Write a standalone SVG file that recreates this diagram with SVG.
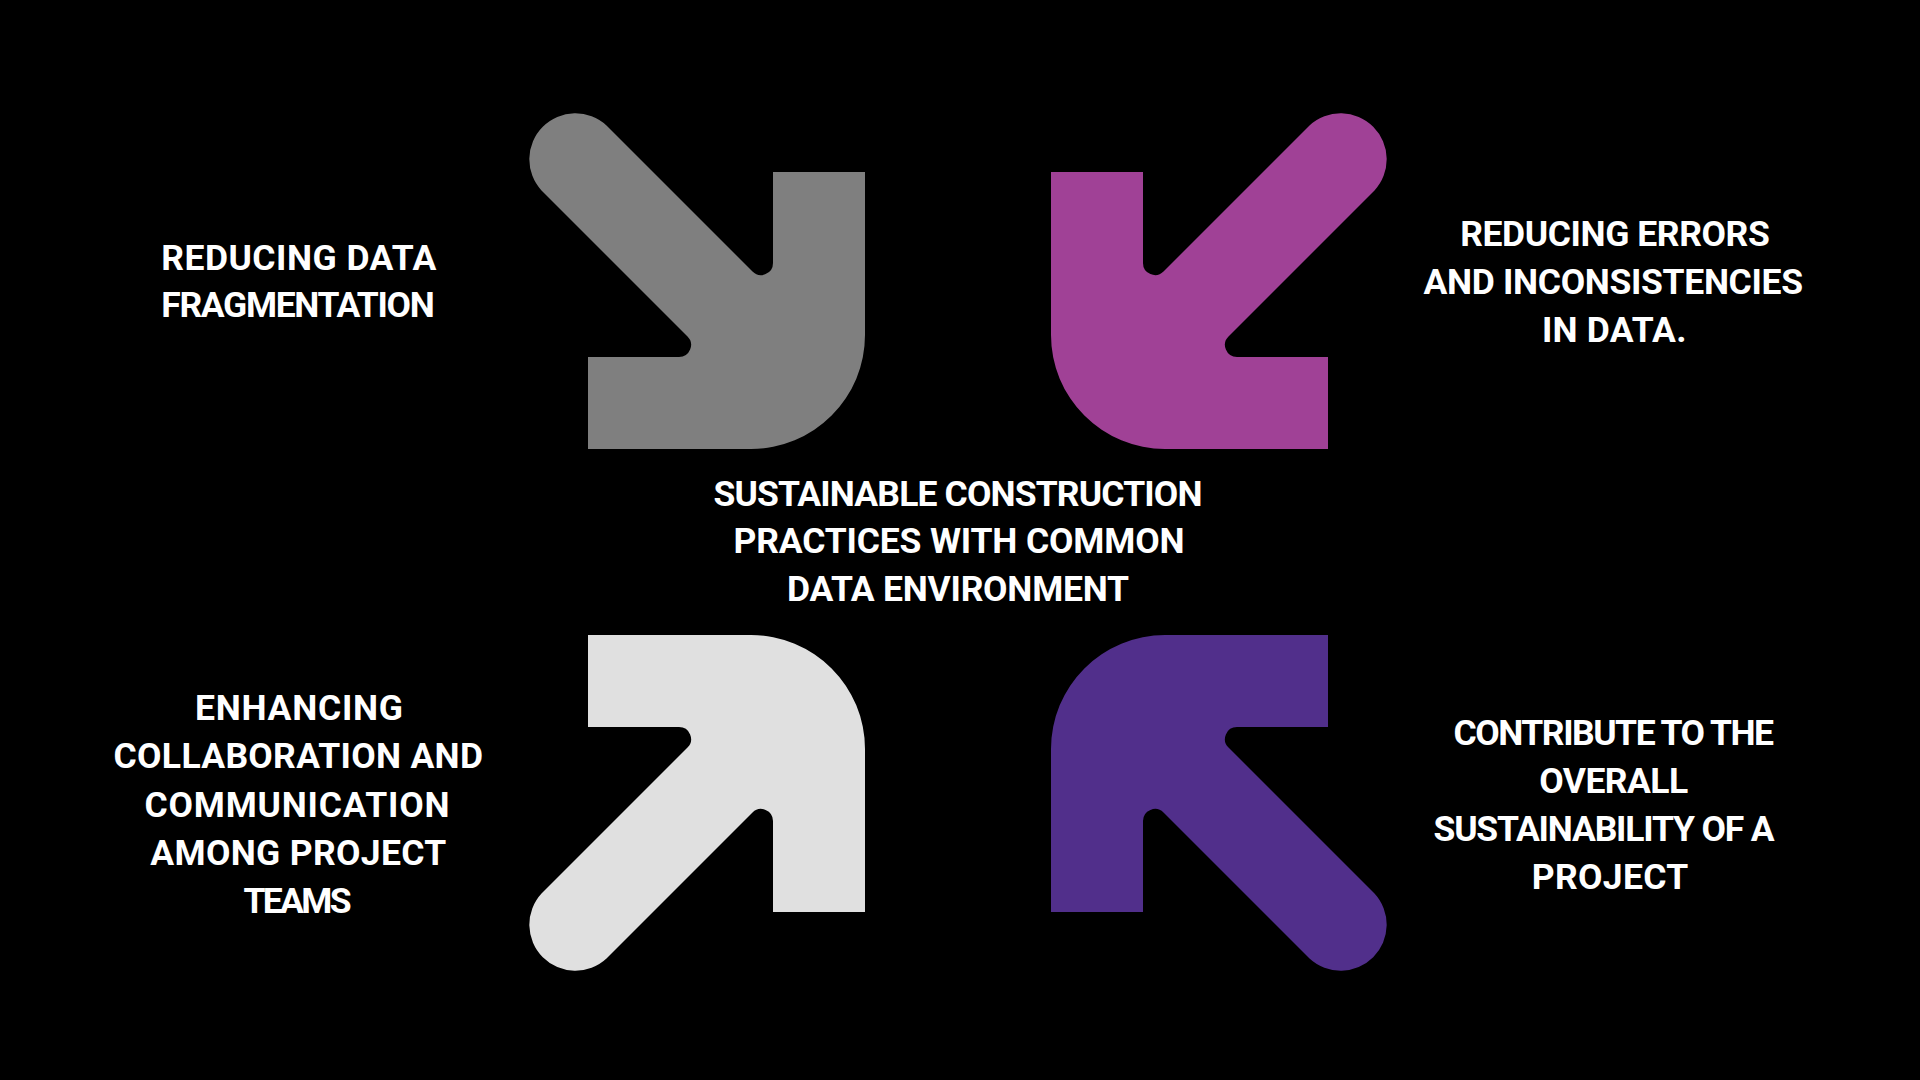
<svg xmlns="http://www.w3.org/2000/svg" xmlns:xlink="http://www.w3.org/1999/xlink" width="1920" height="1080" viewBox="0 0 1920 1080">
  <style>
    .lbl { font-family: Roboto, "Liberation Sans", sans-serif; font-weight: 700; font-size: 35.5px; fill: #FFFFFF; text-anchor: middle; }
  </style>
  <defs>
    <path id="arrow" d="M -185 -370 H -93 V -207 A 114 114 0 0 1 -207 -93 H -370 V -185 H -279 A 12 12 0 0 0 -270.5 -205.5 L -416.5 -351.5 A 46 46 0 0 1 -351.5 -416.5 L -205.5 -270.5 A 12 12 0 0 0 -185 -279 Z"/>
  </defs>
  <rect x="0" y="0" width="1920" height="1080" fill="#000000"/>
  <g id="connectors"/>
  <g id="arrows" transform="translate(958,542)">
    <g id="arrow-top-left"><use xlink:href="#arrow" href="#arrow" fill="#7F7F7F"/></g>
    <g id="arrow-top-right"><use xlink:href="#arrow" href="#arrow" fill="#A04196" transform="scale(-1,1)"/></g>
    <g id="arrow-bottom-left"><use xlink:href="#arrow" href="#arrow" fill="#E0E0E0" transform="scale(1,-1)"/></g>
    <g id="arrow-bottom-right"><use xlink:href="#arrow" href="#arrow" fill="#512F8B" transform="scale(-1,-1)"/></g>
  </g>
  <g id="label-center">
    <text class="lbl" x="958" y="505.7" textLength="489" lengthAdjust="spacing">SUSTAINABLE CONSTRUCTION</text>
    <text class="lbl" x="959" y="553.3" textLength="451" lengthAdjust="spacing">PRACTICES WITH COMMON</text>
    <text class="lbl" x="958" y="601" textLength="342" lengthAdjust="spacing">DATA ENVIRONMENT</text>
  </g>
  <g id="label-top-left">
    <text class="lbl" x="298.8" y="270.3" textLength="275" lengthAdjust="spacing">REDUCING DATA</text>
    <text class="lbl" x="298" y="317" textLength="273.5" lengthAdjust="spacing">FRAGMENTATION</text>
  </g>
  <g id="label-top-right">
    <text class="lbl" x="1615" y="245.7" textLength="309.5" lengthAdjust="spacing">REDUCING ERRORS</text>
    <text class="lbl" x="1613.3" y="294" textLength="379.5" lengthAdjust="spacing">AND INCONSISTENCIES</text>
    <text class="lbl" x="1614.2" y="341.7" textLength="144.5" lengthAdjust="spacing">IN DATA.</text>
  </g>
  <g id="label-bottom-left">
    <text class="lbl" x="299" y="720" textLength="208" lengthAdjust="spacing">ENHANCING</text>
    <text class="lbl" x="298.3" y="768.3" textLength="369.5" lengthAdjust="spacing">COLLABORATION AND</text>
    <text class="lbl" x="297" y="816.7" textLength="305" lengthAdjust="spacing">COMMUNICATION</text>
    <text class="lbl" x="298.3" y="865" textLength="296" lengthAdjust="spacing">AMONG PROJECT</text>
    <text class="lbl" x="297.5" y="912.7" textLength="108" lengthAdjust="spacing">TEAMS</text>
  </g>
  <g id="label-bottom-right">
    <text class="lbl" x="1613.8" y="744.6" textLength="320.5" lengthAdjust="spacing">CONTRIBUTE TO THE</text>
    <text class="lbl" x="1613.7" y="793" textLength="149" lengthAdjust="spacing">OVERALL</text>
    <text class="lbl" x="1604" y="840.5" textLength="341" lengthAdjust="spacing">SUSTAINABILITY OF A</text>
    <text class="lbl" x="1610" y="888.8" textLength="156.4" lengthAdjust="spacing">PROJECT</text>
  </g>
</svg>
